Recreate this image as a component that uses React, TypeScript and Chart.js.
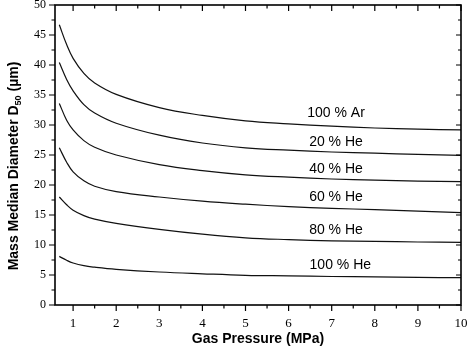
import React, { useEffect, useRef } from "react";
import { Chart, registerables } from "chart.js";

Chart.register(...registerables);

const pressure = [0.68, 0.85, 1, 1.25, 1.5, 2, 3, 4, 5, 6, 7, 8, 9, 10];
const ar100 = [46.7, 43.4, 41.1, 38.6, 37.0, 35.1, 32.9, 31.6, 30.7, 30.2, 29.8, 29.5, 29.3, 29.2];
const he20 = [40.4, 37.6, 35.7, 33.4, 32.0, 30.3, 28.3, 27.0, 26.2, 25.8, 25.5, 25.3, 25.1, 24.95];
const he40 = [33.6, 30.8, 29.2, 27.4, 26.3, 25.0, 23.4, 22.4, 21.7, 21.3, 21.0, 20.8, 20.65, 20.55];
const he60 = [26.2, 23.8, 22.2, 20.7, 19.8, 18.9, 18.0, 17.3, 16.8, 16.4, 16.1, 15.9, 15.65, 15.4];
const he80 = [18.0, 16.7, 15.8, 14.9, 14.3, 13.6, 12.6, 11.8, 11.2, 10.9, 10.7, 10.6, 10.5, 10.45];
const he100 = [8.1, 7.45, 7.0, 6.55, 6.3, 5.95, 5.5, 5.2, 4.95, 4.85, 4.75, 4.7, 4.6, 4.55];

const seriesNames = ["100 % Ar", "20 % He", "40 % He", "60 % He", "80 % He", "100 % He"];
const seriesValues = [ar100, he20, he40, he60, he80, he100];

const labelX = [7.1, 7.1, 7.1, 7.1, 7.1, 7.2];
const labelY = [32.0, 27.2, 22.7, 18.0, 12.5, 6.7];

const xTicks = [1, 2, 3, 4, 5, 6, 7, 8, 9, 10];
const xMinor = [1.5, 2.5, 3.5, 4.5, 5.5, 6.5, 7.5, 8.5, 9.5];
const yTicks = [0, 5, 10, 15, 20, 25, 30, 35, 40, 45, 50];
const yMinor = [2.5, 7.5, 12.5, 17.5, 22.5, 27.5, 32.5, 37.5, 42.5, 47.5];

const xTitle = "Gas Pressure (MPa)";
const yTitleMain = "Mass Median Diameter D";
const yTitleSub = "50";
const yTitleEnd = " (\u00b5m)";

const SANS = '"Liberation Sans", Arial, sans-serif';
const SERIF = '"Liberation Serif", "Times New Roman", serif';

const decorPlugin = {
  id: "decor",
  afterDraw(chart: any) {
    const ctx = chart.ctx;
    const xs = chart.scales.x;
    const ys = chart.scales.y;
    const a = chart.chartArea;
    ctx.save();
    ctx.strokeStyle = "#000";
    ctx.lineWidth = 1.6;
    ctx.strokeRect(a.left, a.top, a.right - a.left, a.bottom - a.top);
    ctx.lineWidth = 1.2;
    ctx.beginPath();
    const tick = (x1: number, y1: number, x2: number, y2: number) => {
      ctx.moveTo(x1, y1);
      ctx.lineTo(x2, y2);
    };
    xTicks.forEach((v) => {
      const p = xs.getPixelForValue(v);
      tick(p, a.bottom, p, a.bottom + 6);
      tick(p, a.top, p, a.top + 6);
    });
    xMinor.forEach((v) => {
      const p = xs.getPixelForValue(v);
      tick(p, a.bottom, p, a.bottom + 3.5);
      tick(p, a.top, p, a.top + 3.5);
    });
    yTicks.forEach((v) => {
      const p = ys.getPixelForValue(v);
      tick(a.left, p, a.left - 6, p);
      tick(a.right, p, a.right - 5, p);
    });
    yMinor.forEach((v) => {
      const p = ys.getPixelForValue(v);
      tick(a.left, p, a.left - 3.5, p);
      tick(a.right, p, a.right - 3, p);
    });
    ctx.stroke();

    // curve labels
    ctx.fillStyle = "#000";
    ctx.font = `14px ${SANS}`;
    ctx.textAlign = "center";
    ctx.textBaseline = "middle";
    seriesNames.forEach((n, i) => {
      ctx.fillText(n, xs.getPixelForValue(labelX[i]), ys.getPixelForValue(labelY[i]));
    });

    // x title
    ctx.font = `bold 14px ${SANS}`;
    ctx.fillText(xTitle, (a.left + a.right) / 2, 339);

    // y title with subscript
    ctx.save();
    ctx.translate(13, (a.top + a.bottom) / 2 + 11);
    ctx.rotate(-Math.PI / 2);
    const mainFont = `bold 14px ${SANS}`;
    const subFont = `bold 9px ${SANS}`;
    ctx.font = mainFont;
    const w1 = ctx.measureText(yTitleMain).width;
    const w3 = ctx.measureText(yTitleEnd).width;
    ctx.font = subFont;
    const w2 = ctx.measureText(yTitleSub).width;
    const total = w1 + w2 + w3;
    let cx = -total / 2;
    ctx.textAlign = "left";
    ctx.textBaseline = "alphabetic";
    ctx.font = mainFont;
    ctx.fillText(yTitleMain, cx, 5);
    cx += w1;
    ctx.font = subFont;
    ctx.fillText(yTitleSub, cx, 8);
    cx += w2;
    ctx.font = mainFont;
    ctx.fillText(yTitleEnd, cx, 5);
    ctx.restore();

    ctx.restore();
  },
};

export default function App() {
  const ref = useRef<HTMLCanvasElement>(null);
  useEffect(() => {
    document.body.style.margin = "0";
    const canvas = ref.current;
    if (!canvas) return;
    const datasets = seriesValues.map((vals, i) => ({
      label: seriesNames[i],
      data: pressure.map((x, j) => ({ x, y: vals[j] })),
      borderColor: "#111",
      borderWidth: 1.2,
      pointRadius: 0,
      fill: false,
      tension: 0.4,
    }));
    const chart = new Chart(canvas, {
      type: "line",
      data: { datasets },
      options: {
        animation: false,
        responsive: false,
        devicePixelRatio: 1,
        layout: { padding: { top: 5, right: 13, left: 0, bottom: 0 } },
        plugins: { legend: { display: false }, tooltip: { enabled: false } },
        scales: {
          x: {
            type: "linear",
            min: 0.58,
            max: 10,
            afterBuildTicks: (s: any) => {
              s.ticks = xTicks.map((v) => ({ value: v }));
            },
            afterFit: (s: any) => {
              s.height = 59;
              s.paddingLeft = 0;
              s.paddingRight = 0;
            },
            grid: { display: false, drawTicks: false },
            border: { display: false },
            ticks: {
              color: "#000",
              font: { family: SERIF, size: 13 },
              padding: 11,
              maxRotation: 0,
              autoSkip: false,
            },
          },
          y: {
            type: "linear",
            min: 0,
            max: 50,
            afterBuildTicks: (s: any) => {
              s.ticks = yTicks.map((v) => ({ value: v }));
            },
            afterFit: (s: any) => {
              s.width = 55;
              s.paddingTop = 0;
              s.paddingBottom = 0;
            },
            grid: { display: false, drawTicks: false },
            border: { display: false },
            ticks: {
              color: "#000",
              font: { family: SERIF, size: 12 },
              padding: 9,
              autoSkip: false,
            },
          },
        },
      },
      plugins: [decorPlugin],
    });
    return () => chart.destroy();
  }, []);
  return <canvas ref={ref} width={474} height={364} style={{ display: "block" }} />;
}
